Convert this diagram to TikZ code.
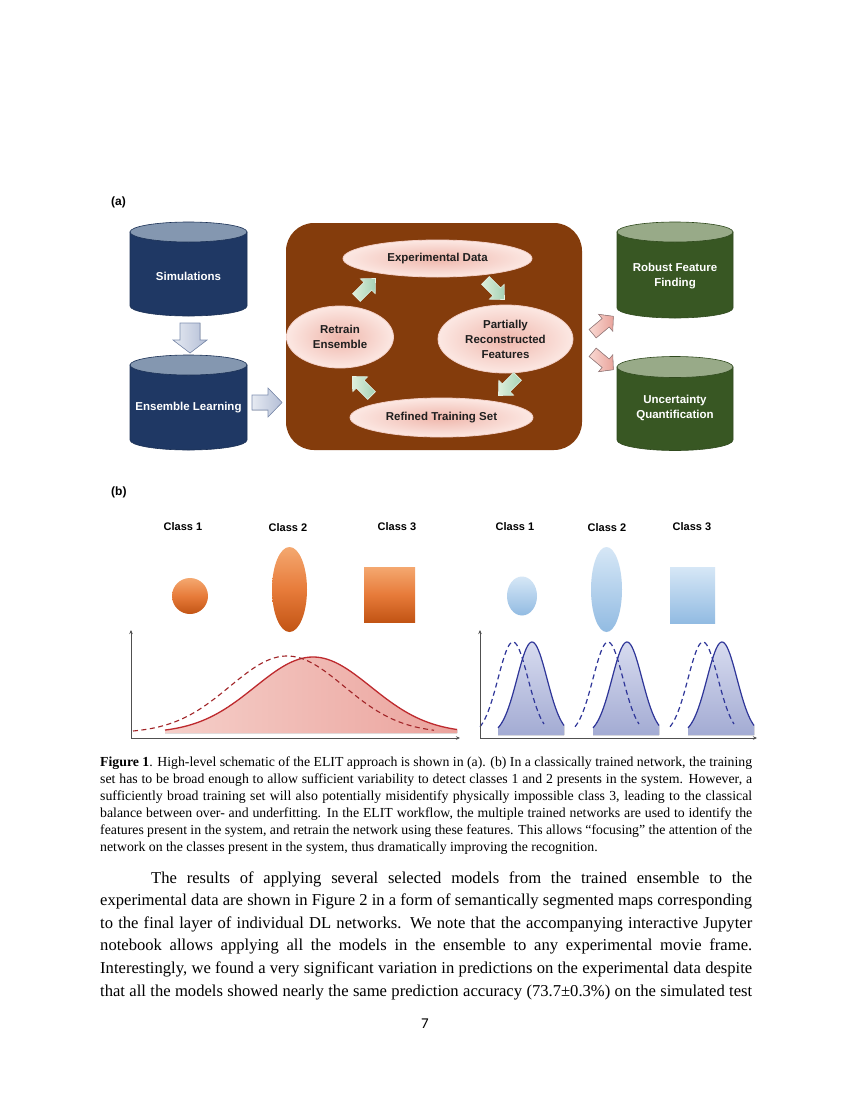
\documentclass[tikz,border=0pt]{standalone}
\usepackage{fontspec}
\setmainfont{Liberation Serif}
\setsansfont{Liberation Sans}
\newfontfamily\calib{Carlito}
\usetikzlibrary{shapes.geometric,arrows.meta}

\definecolor{navy}{HTML}{1F3864}
\definecolor{navytop}{HTML}{8497B0}
\definecolor{gdark}{HTML}{385723}
\definecolor{gtop}{HTML}{98AA88}
\definecolor{brownbg}{HTML}{843C0C}
\definecolor{pinkin}{HTML}{EFB6AB}
\definecolor{pinkout}{HTML}{FCE8E3}
\definecolor{pinkedge}{HTML}{F3CFC7}
\definecolor{mintA}{HTML}{DDEFDB}
\definecolor{mintB}{HTML}{A6D2B6}
\definecolor{mintedge}{HTML}{E6F2E2}
\definecolor{blgA}{HTML}{E6EAF2}
\definecolor{blgB}{HTML}{B3BED6}
\definecolor{blgedge}{HTML}{7F8FB0}
\definecolor{pkA}{HTML}{F9D9D3}
\definecolor{pkB}{HTML}{E9A49C}
\definecolor{pkedge}{HTML}{9A7F7F}
\definecolor{orA}{HTML}{F4A870}
\definecolor{orM}{HTML}{E77B3A}
\definecolor{orB}{HTML}{C25414}
\definecolor{bluA}{HTML}{D6E7F6}
\definecolor{bluB}{HTML}{92BBE2}
\definecolor{redline}{HTML}{BE2A2E}
\definecolor{redA}{HTML}{F5CFC9}
\definecolor{redM}{HTML}{F9E0DB}
\definecolor{redB}{HTML}{EBA39D}
\definecolor{blueline}{HTML}{2F3699}
\definecolor{bfA}{HTML}{D7DBEF}
\definecolor{bfB}{HTML}{A3ABD3}
\definecolor{axisc}{HTML}{505050}

\newcommand\drawcyl[7]{%
  \filldraw[fill=#6, draw=#6!85!black, line width=0.6pt]
    ({#1-#2},#3) -- ({#1-#2},#4)
    arc[start angle=180, end angle=360, x radius=#2pt, y radius=#5pt]
    -- ({#1+#2},#3) -- cycle;
  \filldraw[fill=#7, draw=#6!85!black, line width=0.6pt]
    (#1,#3) ellipse[x radius=#2pt, y radius=#5pt];}

% #1 name, #2 style, #3 cx, #4 cy, #5 angle, #6 length, #7 head width, #8 shaft width, #9 head length
\newcommand\blockarrow[9]{%
  \begin{scope}[shift={(#3,#4)}, rotate=#5]
    \filldraw[#2] ({-#6/2},{-#8/2}) -- ({#6/2-#9},{-#8/2}) -- ({#6/2-#9},{-#7/2})
      -- ({#6/2},0) -- ({#6/2-#9},{#7/2}) -- ({#6/2-#9},{#8/2}) -- ({-#6/2},{#8/2}) -- cycle;
  \end{scope}
  \coordinate (#1) at (#3,#4);}

\begin{document}
\begin{tikzpicture}[x=1pt,y=-1pt,
  lbl/.style={font=\sffamily\bfseries\fontsize{11.5}{15}\selectfont, inner sep=0pt},
  cyltxt/.style={lbl, text=white, align=center},
  pinkell/.style={ellipse, inner sep=0pt, inner color=pinkin, outer color=pinkout,
     draw=pinkedge, line width=0.8pt, lbl, text=black!88, align=center},
  mintarr/.style={left color=mintA, right color=mintB, draw=mintedge, line width=0.6pt},
  pinkarr/.style={left color=pkA, right color=pkB, draw=pkedge, line width=0.6pt},
  bluearr/.style={left color=blgA, right color=blgB, draw=blgedge, line width=0.6pt},
  orshape/.style={inner sep=0pt, top color=orA, bottom color=orB, middle color=orM},
  blshape/.style={inner sep=0pt, top color=bluA, bottom color=bluB},
  axisline/.style={draw=axisc, line width=0.8pt, -{Stealth[length=4pt,width=3.5pt]}},
  redsolid/.style={draw=redline, line width=1.3pt},
  reddash/.style={draw=redline!85!black, line width=1.1pt, dash pattern=on 5pt off 3.5pt},
  bluesolid/.style={draw=blueline, line width=1.2pt},
  bluedash/.style={draw=blueline, line width=1.2pt, dash pattern=on 5pt off 3.5pt},
  capline/.style={font=\fontsize{13.8}{17}\selectfont, inner sep=0pt, anchor=base west},
  bodyline/.style={font=\fontsize{16.6}{22}\selectfont, inner sep=0pt, anchor=base west},
  clabel/.style={lbl, font=\sffamily\bfseries\fontsize{11}{13}\selectfont}
]
\useasboundingbox[fill=white] (0,0) rectangle (850,1100);

% ---------------- (a) ----------------
\node[lbl, font=\sffamily\bfseries\fontsize{12}{14}\selectfont, anchor=west] (la) at (111,202) {(a)};

\drawcyl{188.5}{58.5}{232}{306}{10}{navy}{navytop}
\node[cyltxt] (sim) at (188.5,276) {Simulations};
\drawcyl{188.5}{58.5}{365}{440}{10}{navy}{navytop}
\node[cyltxt] (ens) at (188.5,408) {Ensemble Learning};

\blockarrow{down}{bluearr}{190}{338}{-90}{30}{34}{20}{13}
\blockarrow{right}{bluearr}{267}{402.5}{0}{30}{29}{15}{14}

\node[rectangle, rounded corners=28pt, fill=brownbg, minimum width=296pt,
      minimum height=227pt, inner sep=0pt] (loop) at (434,336.5) {};

\node[pinkell, minimum width=189pt, minimum height=37pt] (exp) at (437.5,258.5) {Experimental Data};
\node[pinkell, minimum width=107pt, minimum height=62pt] (ret) at (340,337) {Retrain\\Ensemble};
\node[pinkell, minimum width=135pt, minimum height=68pt] (par) at (505.5,339) {Partially\\Reconstructed\\Features};
\node[pinkell, minimum width=183pt, minimum height=39pt] (ref) at (441.5,417.5) {Refined Training Set};

\blockarrow{g1}{mintarr}{366}{288}{45}{27}{21}{11}{11}
\blockarrow{g2}{mintarr}{495}{290}{-45}{27}{21}{11}{11}
\blockarrow{g3}{mintarr}{508}{386}{-135}{27}{21}{11}{11}
\blockarrow{g4}{mintarr}{362}{386}{135}{27}{21}{11}{11}

\drawcyl{675}{58}{232}{308}{10}{gdark}{gtop}
\node[cyltxt] (rob) at (675,276) {Robust Feature\\Finding};
\drawcyl{675}{58}{367}{440}{10.5}{gdark}{gtop}
\node[cyltxt] (unc) at (675,408) {Uncertainty\\Quantification};

\blockarrow{p1}{pinkarr}{603}{325}{40}{27}{22}{11}{10}
\blockarrow{p2}{pinkarr}{603}{361}{-40}{27}{22}{11}{10}

% ---------------- (b) ----------------
\node[lbl, font=\sffamily\bfseries\fontsize{12}{14}\selectfont, anchor=west] (lb) at (111,492) {(b)};

\node[clabel] (c1l) at (183,527) {Class 1};
\node[clabel] (c2l) at (288,528) {Class 2};
\node[clabel] (c3l) at (397,527) {Class 3};
\node[clabel] (c1r) at (515,527) {Class 1};
\node[clabel] (c2r) at (607,528) {Class 2};
\node[clabel] (c3r) at (692,527) {Class 3};

\node[orshape, circle, minimum size=36pt] (o1) at (190,596) {};
\node[orshape, ellipse, minimum width=35pt, minimum height=85pt] (o2) at (289.5,589.5) {};
\node[orshape, rectangle, minimum width=51pt, minimum height=55pt] (o3) at (389.5,594.5) {};

\node[blshape, ellipse, minimum width=30pt, minimum height=39pt] (b1) at (522,596) {};
\node[blshape, ellipse, minimum width=31pt, minimum height=85pt] (b2) at (606.5,589.5) {};
\node[blshape, rectangle, minimum width=45pt, minimum height=56pt] (b3) at (692.5,595) {};

% left plot
\coordinate (lo) at (131,738);
\coordinate (ly) at (131,630);
\coordinate (lx) at (460,738);
\fill[left color=redA, middle color=redM, right color=redB]
  (165,733) -- plot[domain=165:457, samples=80] (\x,{733-76*exp(-((\x-313)/58)*((\x-313)/58)/2)}) -- (457,733) -- cycle;
\draw[redsolid] plot[domain=165:457, samples=80] (\x,{733-76*exp(-((\x-313)/58)*((\x-313)/58)/2)});
\draw[reddash] plot[domain=133:434, samples=80] (\x,{733-77*exp(-((\x-287)/57)*((\x-287)/57)/2)});
\draw[axisline] (lo) -- (ly);
\draw[axisline] (lo) -- (lx);

% right plot
\coordinate (ro) at (480,738);
\coordinate (ry) at (480,630);
\coordinate (rx) at (757,738);
\foreach \c in {513,608,703}{
  \fill[top color=bfA, bottom color=bfB]
    ({\c+19-34},735) -- plot[domain={\c+19-34}:{\c+19+32}, samples=50] (\x,{735-93*exp(-((\x-\c-19)/15)*((\x-\c-19)/15)/2)}) -- ({\c+19+32},735) -- cycle;
  \draw[bluesolid] plot[domain={\c+19-34}:{\c+19+32}, samples=50] (\x,{735-93*exp(-((\x-\c-19)/15)*((\x-\c-19)/15)/2)});
  \draw[bluedash] plot[domain={\c-33}:{\c+31}, samples=50] (\x,{735-93*exp(-((\x-\c)/15)*((\x-\c)/15)/2)});
}
\draw[axisline] (ro) -- (ry);
\draw[axisline] (ro) -- (rx);

% ---------------- caption ----------------
\node[capline] (cap1) at (100,766) {\makebox[652pt][s]{\textbf{Figure 1}. High-level schematic of the ELIT approach is shown in (a). (b) In a classically trained network, the training}};
\node[capline] (cap2) at (100,783.1) {\makebox[652pt][s]{set has to be broad enough to allow sufficient variability to detect classes 1 and 2 presents in the system. However, a}};
\node[capline] (cap3) at (100,800.2) {\makebox[652pt][s]{sufficiently broad training set will also potentially misidentify physically impossible class 3, leading to the classical}};
\node[capline] (cap4) at (100,817.3) {\makebox[652pt][s]{balance between over- and underfitting. In the ELIT workflow, the multiple trained networks are used to identify the}};
\node[capline] (cap5) at (100,834.4) {\makebox[652pt][s]{features present in the system, and retrain the network using these features. This allows “focusing” the attention of the}};
\node[capline] (cap6) at (100,851.5) {network on the classes present in the system, thus dramatically improving the recognition.};

% ---------------- body ----------------
\node[bodyline] (bd1) at (151,883) {\makebox[601pt][s]{The results of applying several selected models from the trained ensemble to the}};
\node[bodyline] (bd2) at (100,905.6) {\makebox[652pt][s]{experimental data are shown in Figure 2 in a form of semantically segmented maps corresponding}};
\node[bodyline] (bd3) at (100,928.2) {\makebox[652pt][s]{to the final layer of individual DL networks. We note that the accompanying interactive Jupyter}};
\node[bodyline] (bd4) at (100,950.8) {\makebox[652pt][s]{notebook allows applying all the models in the ensemble to any experimental movie frame.}};
\node[bodyline] (bd5) at (100,973.4) {\makebox[652pt][s]{Interestingly, we found a very significant variation in predictions on the experimental data despite}};
\node[bodyline] (bd6) at (100,996) {\makebox[652pt][s]{that all the models showed nearly the same prediction accuracy (73.7±0.3\%) on the simulated test}};

\node[font=\calib\fontsize{15}{18}\selectfont, inner sep=0pt, anchor=base] (pg) at (425,1028) {7};
\end{tikzpicture}
\end{document}
